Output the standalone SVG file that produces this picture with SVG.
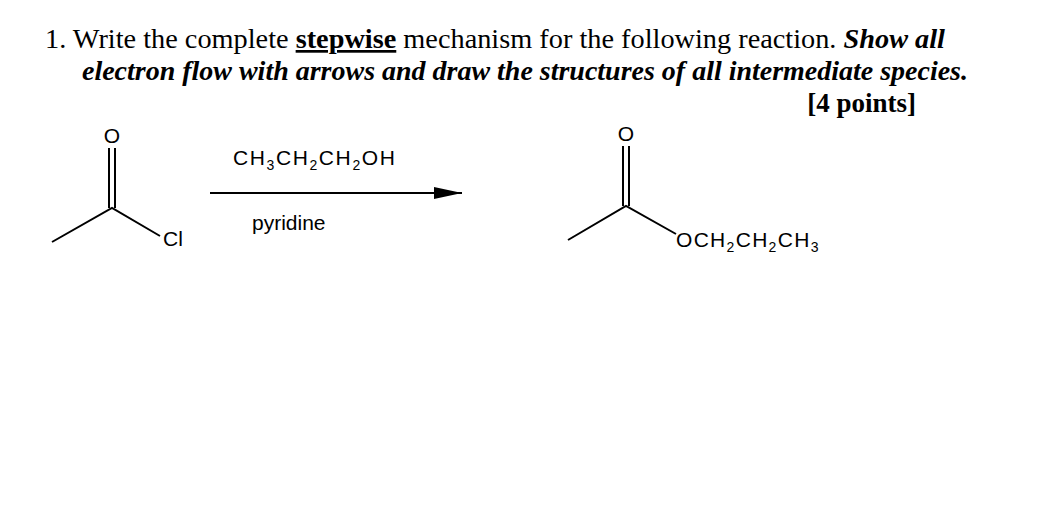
<svg xmlns="http://www.w3.org/2000/svg" width="1058" height="524" viewBox="0 0 1058 524">
<defs><marker id="ah2" markerWidth="30" markerHeight="12" refX="28" refY="6" orient="auto" markerUnits="userSpaceOnUse"><path d="M0,0 L28,6 L0,12 Z"/></marker></defs>
<style>.t{font-family:"Liberation Serif",serif;font-size:27px;fill:#000}.c{font-family:"Liberation Sans",Arial,sans-serif;font-size:21px;fill:#000}.s{font-size:14px}.b{stroke:#000;stroke-width:2;fill:none}</style>
<rect width="1058" height="524" fill="#fff"/>
<g id="question">
<text class="t" x="45" y="48" textLength="900" lengthAdjust="spacingAndGlyphs">1. Write the complete <tspan font-weight="bold" text-decoration="underline">stepwise</tspan> mechanism for the following reaction. <tspan font-weight="bold" font-style="italic">Show all</tspan></text>
<text class="t" x="82" y="80" font-weight="bold" font-style="italic" textLength="886" lengthAdjust="spacingAndGlyphs">electron flow with arrows and draw the structures of all intermediate species.</text>
<text class="t" x="916" y="112" font-weight="bold" text-anchor="end">[4 points]</text>
</g>
<g id="reactant">
<path class="b" d="M52,242 L112,208 L160,236"/>
<path class="b" d="M109,208 V148 M115,208 V148"/>
<text class="c" x="112" y="143" text-anchor="middle">O</text>
<text class="c" x="163" y="246">Cl</text>
</g>
<g id="product">
<path class="b" d="M568,240 L626,206 L676,234"/>
<path class="b" d="M623,206 V146 M629,206 V146"/>
<text class="c" x="626" y="141" text-anchor="middle">O</text>
<text class="c" x="676" y="247" letter-spacing="1.3">OCH<tspan class="s" dy="5">2</tspan><tspan dy="-5">CH</tspan><tspan class="s" dy="5">2</tspan><tspan dy="-5">CH</tspan><tspan class="s" dy="5">3</tspan></text>
</g>
<g id="connectors">
<line class="b" x1="210" y1="193" x2="462" y2="193" marker-end="url(#ah2)"/>
<text class="c" x="233" y="165" letter-spacing="1.6">CH<tspan class="s" dy="5">3</tspan><tspan dy="-5">CH</tspan><tspan class="s" dy="5">2</tspan><tspan dy="-5">CH</tspan><tspan class="s" dy="5">2</tspan><tspan dy="-5">OH</tspan></text>
<text class="c" x="252" y="230">pyridine</text>
</g>
</svg>
